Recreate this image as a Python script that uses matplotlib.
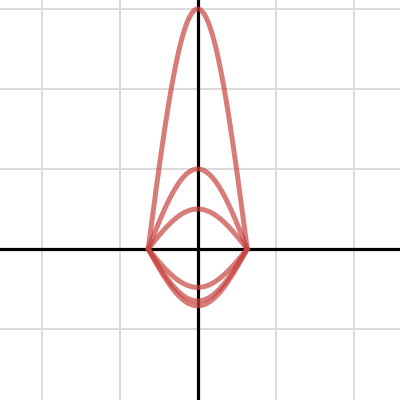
import numpy as np
import matplotlib
matplotlib.use("Agg")
import matplotlib.pyplot as plt

# peak heights of the curves
amplitudes = [3.0, 1.0, 0.5, -0.48, -0.65, -0.71]
half_width = 0.635   # curves meet the x axis at +/- this value
x_ticks = [-2, -1, 1, 2]
y_ticks = [-1, 1, 2, 3]

fig = plt.figure(figsize=(4, 4), dpi=100)
ax = fig.add_axes([0, 0, 1, 1])

ax.set_xlim(-2.535, 2.594)
ax.set_ylim(-1.8875, 3.1125)

# grid
for gx in x_ticks:
    ax.axvline(gx, color="#dadada", lw=1.4, zorder=0)
for gy in y_ticks:
    ax.axhline(gy, color="#dadada", lw=1.4, zorder=0)

# axes
ax.axhline(0, color="black", lw=2.3, zorder=1)
ax.axvline(0, color="black", lw=2.3, zorder=1)

# curves
x = np.linspace(-half_width, half_width, 400)
for a in amplitudes:
    y = a * np.cos(np.pi * x / (2 * half_width))
    ax.plot(x, y, color="#c74440", alpha=0.7, lw=3.6,
            solid_capstyle="round", zorder=2)

ax.axis("off")
fig.savefig("out.png", dpi=100)
